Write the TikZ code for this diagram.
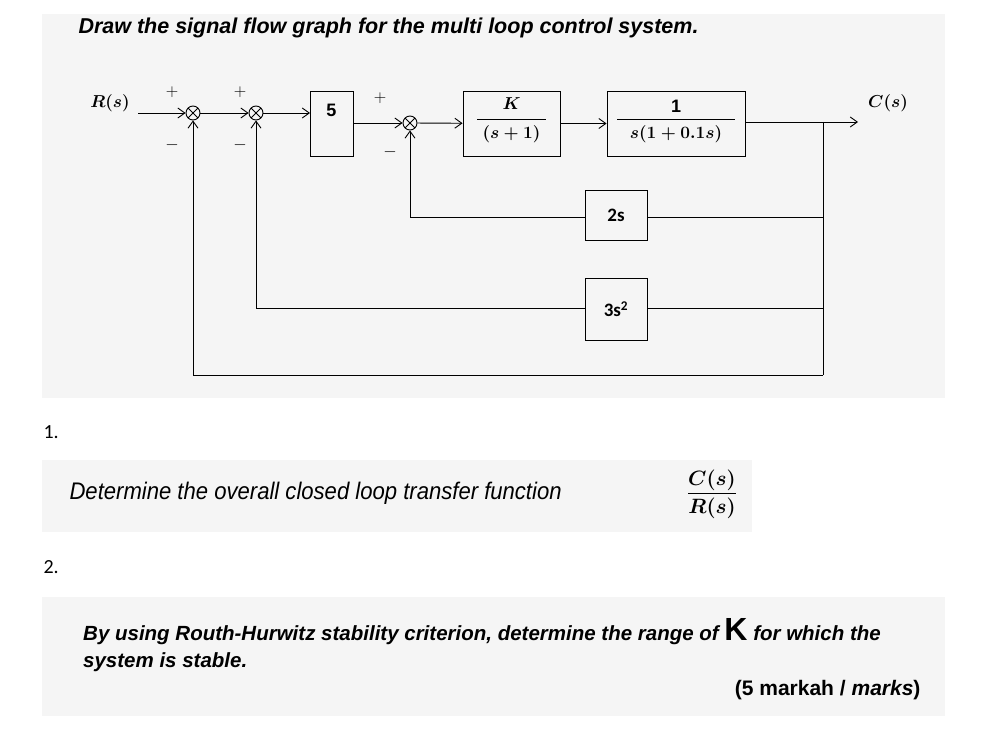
\documentclass[tikz,border=0pt]{standalone}
\usepackage{amsmath}
\usepackage{fontspec}
\setmainfont{Liberation Sans}
\newfontfamily\carlitofont{Carlito}
\usetikzlibrary{arrows.meta}
\begin{document}
\begin{tikzpicture}[x=1pt,y=-1pt,
  sj/.style={circle,draw,line width=0.9pt,minimum size=14pt,inner sep=0pt,path picture={\draw (path picture bounding box.north west)--(path picture bounding box.south east) (path picture bounding box.north east)--(path picture bounding box.south west);}},
  blk/.style={draw,line width=0.9pt,inner sep=0pt},
  ln/.style={line width=0.9pt},
  ar/.style={ln,-{Straight Barb[length=7pt,width=10pt]}},
  mt/.style={font=\fontsize{18}{20}\selectfont},
  panel/.style={fill=black!4,draw=none}]
\useasboundingbox (0,0) rectangle (1006,730);
\fill[white] (0,0) rectangle (1006,730);
\fill[panel] (42,14) rectangle (945,398);
\fill[panel] (42,460) rectangle (752,532);
\fill[panel] (42,597) rectangle (945,716);
\node[anchor=west,font=\fontsize{21.5}{24}\selectfont\bfseries\itshape] (title) at (75,28) {Draw the signal flow graph for the multi loop control system.};
% diagram
\node[mt] (R) at (110,103) {$\boldsymbol{R(s)}$};
\coordinate (Rin) at (138,113);
\node[sj] (s1) at (193,113) {};
\node[sj] (s2) at (256,113) {};
\node[blk,minimum width=43pt,minimum height=65pt] (b5) at (331.5,123.5) {};
\node[mt] at (331.5,110) {$\mathbf{5}$};
\node[sj] (s3) at (410,123) {};
\node[blk,minimum width=97pt,minimum height=65pt] (bK) at (511.5,123.5) {};
\node[mt] at (511.5,104) {$\boldsymbol{K}$};
\draw[ln] (477,119)--(546,119);
\node[mt] at (511.5,134) {$\boldsymbol{(s+1)}$};
\node[blk,minimum width=138pt,minimum height=65pt] (bG) at (676,123.5) {};
\node[mt] at (676,106) {$\mathbf{1}$};
\draw[ln] (617,119)--(735,119);
\node[mt] at (676,134) {$\boldsymbol{s(1+0.1s)}$};
\coordinate (Cout) at (858,122);
\node[mt] (C) at (888,103) {$\boldsymbol{C(s)}$};
\coordinate (tap) at (823,122);
\node[blk,minimum width=62pt,minimum height=50pt] (b2s) at (616,215) {\carlitofont\bfseries\fontsize{19}{20}\selectfont 2s};
\node[blk,minimum width=62pt,minimum height=62pt] (b3s) at (616,309) {\carlitofont\bfseries\fontsize{19}{20}\selectfont 3s\textsuperscript{2}};
% forward
\draw[ar] (Rin)--(s1);
\draw[ar] (s1)--(s2);
\draw[ar] (s2)--(310,113);
\draw[ar] (353,123)--(s3);
\draw[ar] (s3)--(bK);
\draw[ar] (bK)--(bG);
\draw[ar] (bG.east |- Cout)--(Cout);
% feedback
\draw[ln] (tap)--(823,375);
\draw[ln] (823,217)--(b2s.east|-0,217);
\draw[ar] (b2s.west|-0,217)--(410,217)--(s3);
\draw[ln] (823,308)--(b3s.east|-0,308);
\draw[ar] (b3s.west|-0,308)--(256,308)--(s2);
\draw[ar] (823,375)--(193,375)--(s1);
% signs
\foreach \p in {(172,92),(240,92),(380,98)} \node[mt] at \p {$+$};
\foreach \p in {(172,145),(240,145),(390,152)} \node[mt] at \p {$-$};
% questions
\node[anchor=west,font=\carlitofont\fontsize{20}{22}\selectfont] at (40,432) {1.};
\node[anchor=west,font=\fontsize{24}{26}\selectfont\itshape] at (66,493) {\scalebox{0.92}[1]{Determine the overall closed loop transfer function}};
\node[font=\fontsize{22}{24}\selectfont] at (712,494) {$\dfrac{\boldsymbol{C(s)}}{\boldsymbol{R(s)}}$};
\node[anchor=west,font=\carlitofont\fontsize{20}{22}\selectfont] at (40,567) {2.};
\node[anchor=north west,align=left,font=\fontsize{20.5}{27}\selectfont\bfseries\itshape,inner sep=0pt] at (83,618) {By using Routh-Hurwitz stability criterion, determine the range of {\fontsize{32}{18}\selectfont\upshape K} for which the\\system is stable.};
\node[anchor=east,font=\fontsize{21}{24}\selectfont\bfseries] at (924,690) {(5 markah / \textit{marks})};
\end{tikzpicture}
\end{document}
